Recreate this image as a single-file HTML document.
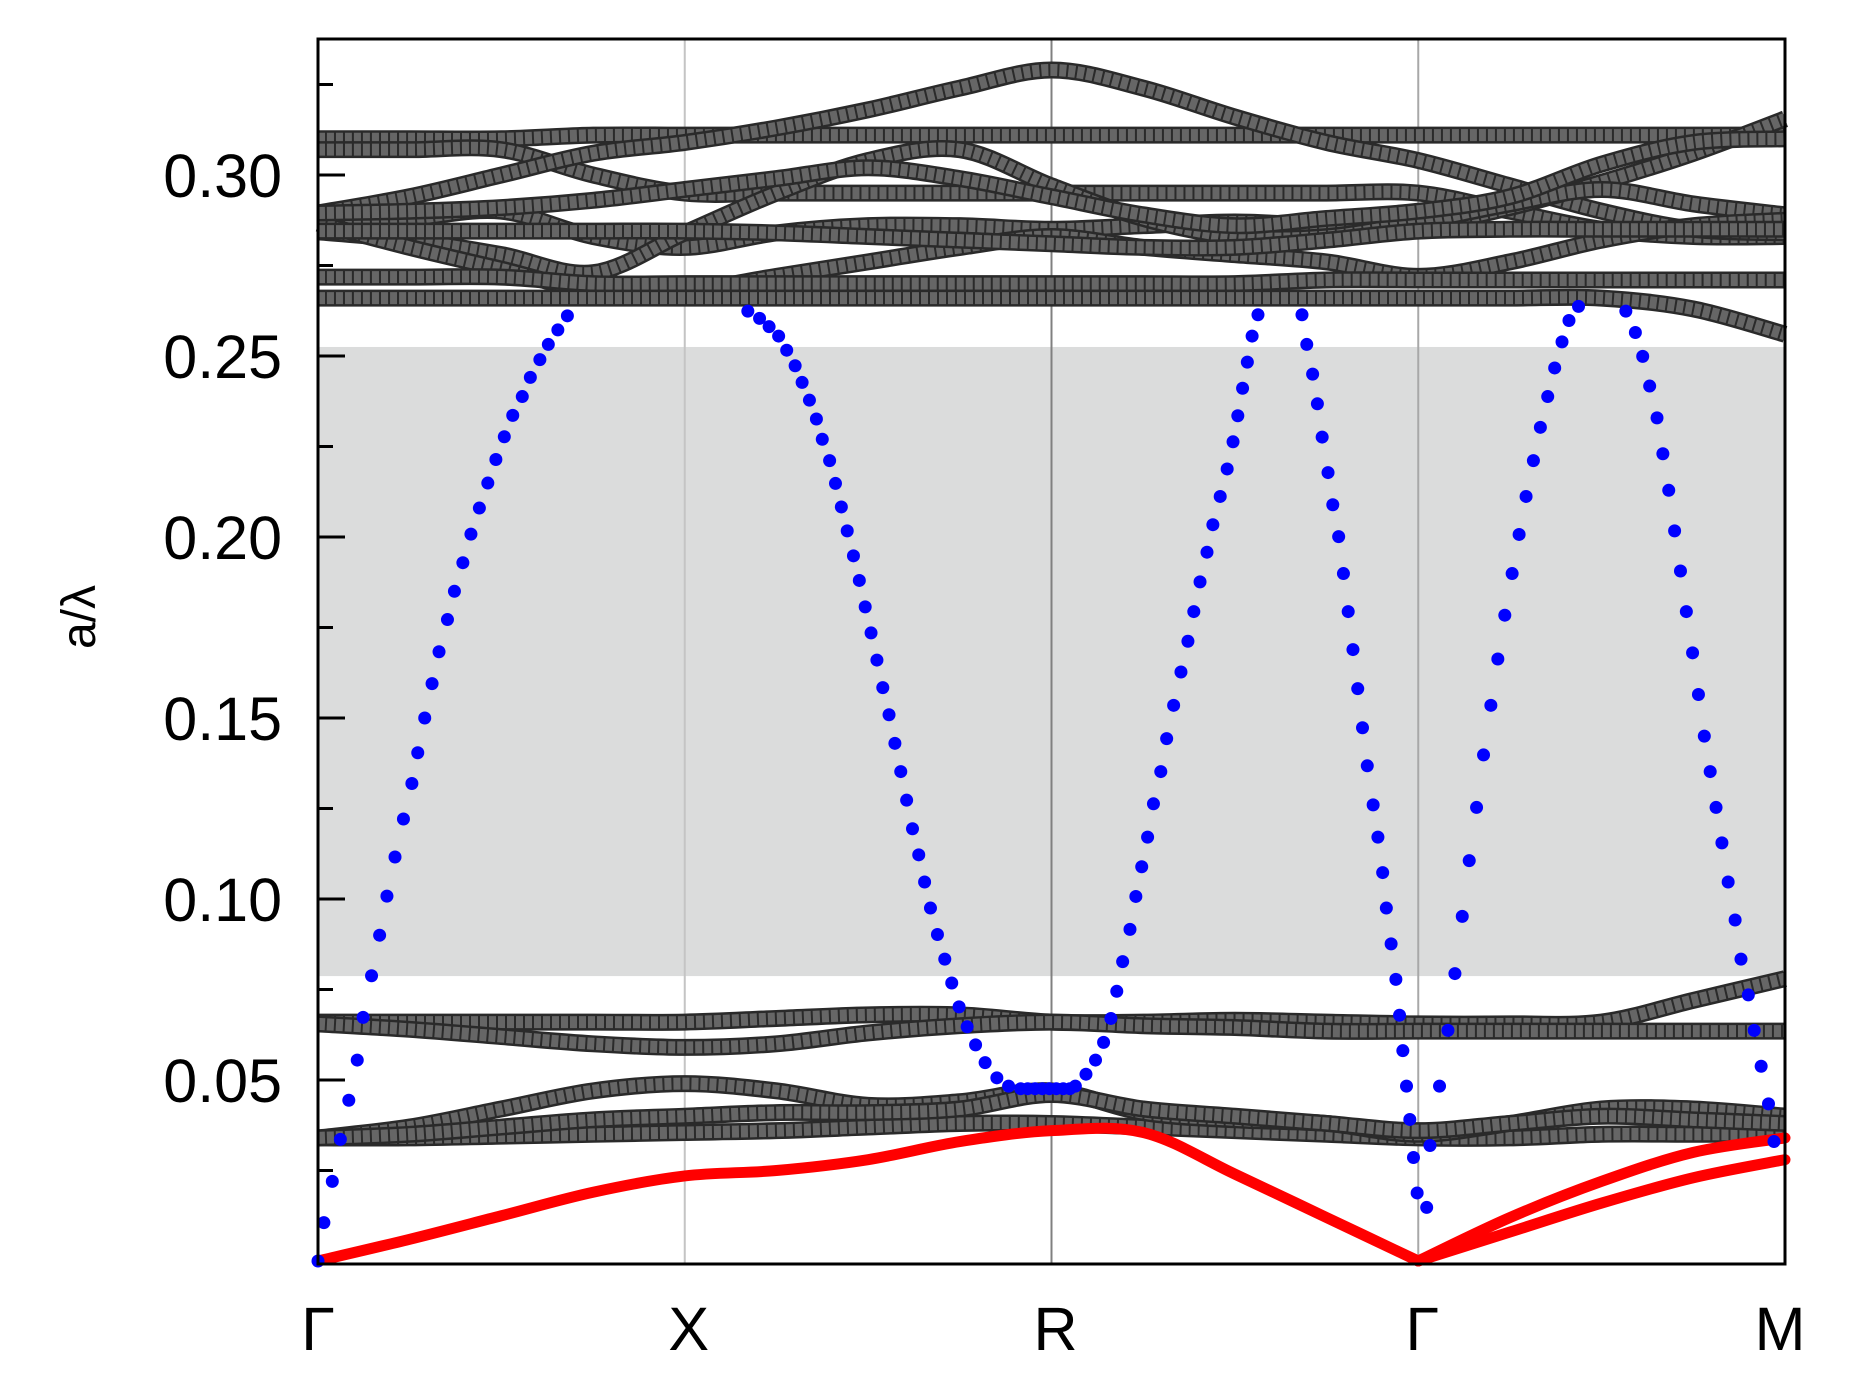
<!DOCTYPE html>
<html><head><meta charset="utf-8"><style>
html,body{margin:0;padding:0;background:#fff}
svg{display:block}
text{font-family:"Liberation Sans",Arial,sans-serif;fill:#000}
</style></head><body>
<svg id="chart" width="1860" height="1392" viewBox="0 0 1860 1392" xmlns="http://www.w3.org/2000/svg">
<g id="bg"></g>
<g id="vlines"></g>
<g id="gray"></g>
<g id="red"></g>
<g id="blue"></g>
<g id="axes"></g>
</svg>
<script>
const kGrid=[0,0.25,0.5,0.75,1,1.25,1.5,1.75,2,2.25,2.5,2.75,3,3.25,3.5,3.75,4];
const upperBands=[
[0.310,0.310,0.310,0.311,0.311,0.311,0.311,0.311,0.311,0.311,0.311,0.311,0.311,0.311,0.311,0.311,0.311],
[0.307,0.307,0.307,0.300,0.295,0.295,0.295,0.295,0.295,0.295,0.295,0.295,0.295,0.290,0.285,0.283,0.283],
[0.2895,0.294,0.300,0.306,0.309,0.313,0.318,0.324,0.329,0.324,0.316,0.309,0.304,0.297,0.290,0.285,0.284],
[0.2867,0.288,0.290,0.283,0.280,0.284,0.286,0.286,0.285,0.286,0.287,0.286,0.286,0.291,0.298,0.306,0.3155],
[0.2843,0.282,0.278,0.273,0.284,0.295,0.304,0.307,0.297,0.288,0.283,0.283,0.287,0.292,0.296,0.292,0.289],
[0.2867,0.280,0.274,0.268,0.268,0.272,0.276,0.280,0.283,0.280,0.278,0.276,0.272,0.276,0.282,0.286,0.2875],
[0.2718,0.2718,0.2718,0.270,0.270,0.270,0.270,0.270,0.270,0.270,0.270,0.271,0.271,0.271,0.271,0.271,0.271],
[0.266,0.266,0.266,0.266,0.266,0.266,0.266,0.266,0.266,0.266,0.266,0.266,0.266,0.266,0.266,0.263,0.256],
[0.2845,0.2845,0.2845,0.2845,0.2845,0.284,0.283,0.282,0.281,0.280,0.280,0.282,0.2845,0.285,0.285,0.285,0.285],
[0.2895,0.290,0.291,0.293,0.296,0.299,0.302,0.299,0.294,0.289,0.286,0.288,0.290,0.294,0.303,0.309,0.310]
];
const lowerBands=[
[0.034,0.034,0.0345,0.035,0.0355,0.036,0.037,0.038,0.038,0.037,0.036,0.035,0.034,0.034,0.035,0.035,0.035],
[0.034,0.037,0.042,0.047,0.049,0.047,0.043,0.044,0.047,0.041,0.039,0.038,0.035,0.038,0.042,0.042,0.040],
[0.034,0.035,0.037,0.039,0.040,0.041,0.041,0.042,0.046,0.042,0.040,0.038,0.036,0.038,0.040,0.039,0.038],
[0.066,0.066,0.066,0.066,0.066,0.067,0.068,0.068,0.066,0.066,0.0665,0.066,0.0655,0.0655,0.066,0.072,0.078],
[0.0655,0.064,0.062,0.060,0.059,0.060,0.063,0.065,0.066,0.065,0.0645,0.0635,0.0635,0.0635,0.0635,0.0635,0.0635]
];
const redK1=[0,0.25,0.5,0.75,1,1.25,1.5,1.75,2,2.25,2.5,2.75,3];
const redF1=[0,0.006,0.0125,0.019,0.0235,0.025,0.028,0.033,0.036,0.0355,0.024,0.012,0];
const redK2=[3,3.25,3.5,3.75,4];
const redF2=[0,0.012,0.022,0.030,0.034];
const redF3=[0,0.008,0.016,0.023,0.028];
const blueK=[0,0.016,0.039,0.061,0.084,0.107,0.123,0.146,0.168,0.188,0.210,0.233,0.256,0.272,0.291,0.311,0.330,0.353,0.372,0.395,0.417,0.440,0.463,0.485,0.508,0.531,0.557,0.579,0.605,0.628,0.654,0.680,
1.172,1.204,1.230,1.256,1.278,1.301,1.320,1.340,1.359,1.375,1.395,1.411,1.427,1.443,1.460,1.476,1.492,1.508,1.524,1.540,1.557,1.573,1.589,1.605,1.621,1.638,1.654,1.670,1.689,1.709,1.728,1.748,1.770,1.793,1.819,1.851,1.883,1.916,1.935,1.955,1.975,1.994,2.013,2.032,2.050,2.065,
2.094,2.120,2.142,2.162,2.178,2.194,2.214,2.230,2.246,2.262,2.278,2.298,2.314,2.333,2.353,2.372,2.388,2.405,2.424,2.440,2.460,2.479,2.495,2.508,2.521,2.534,2.547,2.563,
2.683,2.696,2.712,2.725,2.738,2.754,2.767,2.783,2.796,2.809,2.822,2.835,2.848,2.861,2.877,2.890,2.903,2.913,2.926,2.939,2.949,2.958,2.968,2.977,2.987,2.997,3.023,
3.032,3.058,3.081,3.100,3.120,3.139,3.159,3.178,3.198,3.217,3.236,3.256,3.275,3.294,3.314,3.333,3.353,3.372,3.392,3.411,3.437,
3.566,3.592,3.612,3.631,3.651,3.667,3.683,3.699,3.715,3.731,3.748,3.764,3.780,3.796,3.812,3.828,3.845,3.864,3.880,3.900,3.916,3.935,3.955,3.970];
const blueF=[0,0.0106,0.022,0.0336,0.0444,0.0555,0.0673,0.0788,0.090,0.1008,0.1116,0.1221,0.1319,0.1404,0.150,0.1595,0.1683,0.1772,0.185,0.1929,0.2008,0.208,0.2149,0.2214,0.2277,0.2336,0.2388,0.2441,0.249,0.2532,0.2572,0.2611,
0.2624,0.2604,0.2581,0.2555,0.2516,0.2473,0.2427,0.2378,0.2326,0.2270,0.2211,0.2148,0.2083,0.2017,0.1948,0.1880,0.1807,0.1735,0.1660,0.1584,0.1509,0.1430,0.1352,0.1273,0.1194,0.1122,0.1047,0.0975,0.0902,0.0834,0.0768,0.0702,0.0647,0.0597,0.0548,0.0506,0.0483,0.0476,0.0476,0.0476,0.0476,0.0476,0.0476,0.0476,0.0476,0.0483,
0.0516,0.0555,0.0604,0.0670,0.0745,0.0827,0.0916,0.1007,0.1089,0.1171,0.1263,0.1352,0.1443,0.1535,0.1627,0.1712,0.1794,0.1876,0.1958,0.2034,0.2112,0.2188,0.2263,0.2335,0.2411,0.2483,0.2555,0.2614,
0.2614,0.2532,0.2450,0.2368,0.2276,0.2178,0.2089,0.2001,0.1899,0.1794,0.1689,0.1581,0.1473,0.1368,0.1260,0.1171,0.1073,0.0975,0.0876,0.0778,0.0679,0.0581,0.0483,0.0391,0.0286,0.0188,0.0148,
0.0319,0.0483,0.0637,0.0794,0.0952,0.1106,0.1253,0.1398,0.1535,0.1663,0.1784,0.1899,0.2007,0.2112,0.2211,0.2303,0.2388,0.2467,0.2539,0.2598,0.2637,
0.2624,0.2565,0.2499,0.2417,0.2329,0.2230,0.2129,0.2017,0.1906,0.1794,0.1680,0.1565,0.1450,0.1352,0.1253,0.1155,0.1047,0.0942,0.0834,0.0735,0.0637,0.0538,0.0434,0.033];
const kTicks=[0,1,2,3,4];
const kLabels=["Γ","X","R","Γ","M"];
const yTicks=[0.05,0.10,0.15,0.20,0.25,0.30];
const yLabels=["0.05","0.10","0.15","0.20","0.25","0.30"];
const gapLow=0.0787, gapHigh=0.2525;

const L=318,R=1785,T=39,B=1264;
const xS=k=>L+(R-L)*k/4;
const yS=v=>175+(0.30-v)*3620;
const NS="http://www.w3.org/2000/svg";
function mk(tag,parent,attrs){const e=document.createElementNS(NS,tag);for(const a in attrs)e.setAttribute(a,attrs[a]);parent.appendChild(e);return e;}
function smoothPath(ks,vs){
  const p=ks.map((k,i)=>[xS(k),yS(vs[i])]);
  let d="M"+p[0][0]+","+p[0][1];
  for(let i=0;i<p.length-1;i++){
    const p0=p[i-1]||p[i],p1=p[i],p2=p[i+1],p3=p[i+2]||p2;
    const c1=[p1[0]+(p2[0]-p0[0])/6,p1[1]+(p2[1]-p0[1])/6];
    const c2=[p2[0]-(p3[0]-p1[0])/6,p2[1]-(p3[1]-p1[1])/6];
    d+=" C"+c1[0]+","+c1[1]+" "+c2[0]+","+c2[1]+" "+p2[0]+","+p2[1];
  }
  return d;
}
const bg=document.getElementById('bg');
const band=mk('rect',bg,{x:L,y:yS(gapHigh),width:R-L,height:yS(gapLow)-yS(gapHigh),fill:'#dbdcdc'});



const vl=document.getElementById('vlines');
[[1,'#c4c4c4'],[2,'#808080'],[3,'#a8a8a8']].forEach(([k,c])=>{
  const l=mk('line',vl,{x1:xS(k),x2:xS(k),y1:T,y2:B,stroke:c,'stroke-width':2});
  
  
});

const g=document.getElementById('gray');
upperBands.concat(lowerBands).forEach(vs=>{
  const d=smoothPath(kGrid,vs);
  const o=mk('path',g,{d:d,fill:'none',stroke:'#2a2a2a','stroke-width':17,'stroke-linecap':'butt'});
  
  
  const p=mk('path',g,{d:d,fill:'none',stroke:'#666666','stroke-width':12,'stroke-linecap':'butt','stroke-dasharray':'7 2'});
  
  
});

const rg=document.getElementById('red');
[[redK1,redF1],[redK2,redF2],[redK2,redF3]].forEach(([ks,vs])=>{
  const p=mk('path',rg,{d:smoothPath(ks,vs),fill:'none',stroke:'#ff0000','stroke-width':11,'stroke-linecap':'round'});
  
  
});

const bl=document.getElementById('blue');
blueK.forEach((k,i)=>{
  const c=mk('circle',bl,{cx:xS(k),cy:yS(blueF[i]),r:6.5,fill:'#0000ff'});
  
  
});

const ax=document.getElementById('axes');
const fr=mk('rect',ax,{x:L,y:T,width:R-L,height:B-T,fill:'none',stroke:'#000','stroke-width':3});


for(let i=1;i<=13;i++){
  const v=i*0.025, major=(i%2===0);
  const t=mk('line',ax,{x1:L,x2:L+(major?27:15),y1:yS(v),y2:yS(v),stroke:'#000','stroke-width':3});
  
  
}
yTicks.forEach((v,i)=>{
  const t=mk('text',ax,{x:282,y:yS(v)+22,'text-anchor':'end','font-size':61});
  t.textContent=yLabels[i];
  
  
});
kTicks.forEach((k,i)=>{
  const t=mk('text',ax,{x:xS(k)+(i===0?0:(i===4?-5:4)),y:1350,'text-anchor':'middle','font-size':61});
  t.textContent=kLabels[i];
  
  
});
const yt=mk('text',ax,{x:0,y:0,'text-anchor':'middle','font-size':48,transform:'translate(95,617) rotate(-90)'});
yt.textContent='a/λ';


</script>
</body></html>
